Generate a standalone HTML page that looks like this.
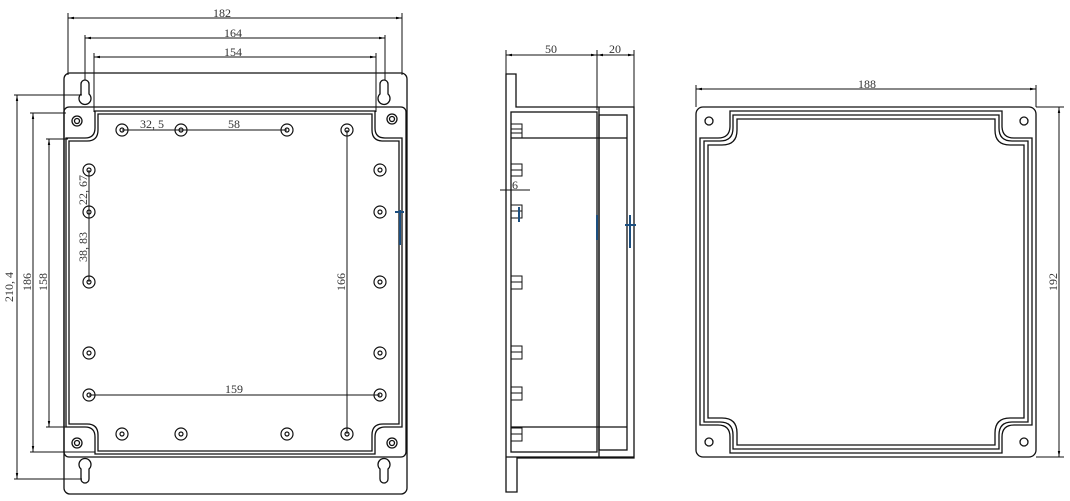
<!DOCTYPE html>
<html><head><meta charset="utf-8"><style>
html,body{margin:0;padding:0;background:#fff;}
svg{display:block;}
text{font-family:"Liberation Serif",serif;font-size:12px;fill:#333;}
</style></head><body>
<svg width="1070" height="501" viewBox="0 0 1070 501" xmlns="http://www.w3.org/2000/svg">
<defs>
<marker id="a" viewBox="0 0 10 10" refX="10" refY="5" markerWidth="6" markerHeight="6" orient="auto-start-reverse"><path d="M0,3 L10,5 L0,7z" fill="#000"/></marker>
</defs>
<g fill="none" stroke="#111" stroke-width="1.3">
<!-- LEFT VIEW -->
<rect x="64" y="73" width="343" height="421" rx="6"/>
<rect x="64" y="107" width="342" height="350" rx="5"/>
<path d="M95,111 H375 V128 Q375,138 385,138 H402 V427 H385 Q375,427 375,437 V454 H95 V437 Q95,427 85,427 H66 V138 H85 Q95,138 95,128 Z"/>
<path d="M98,114 H372 V130 Q372,141 383,141 H399 V424 H383 Q372,424 372,435 V451 H98 V435 Q98,424 87,424 H69 V141 H87 Q98,141 98,130 Z"/>
<!-- keyholes -->
<path d="M81,94 V84 A4,4 0 0 1 89,84 V94 A6,6 0 1 1 81,94 Z"/>
<path d="M380,94 V84 A4,4 0 0 1 388,84 V94 A6,6 0 1 1 380,94 Z"/>
<path d="M81,469 V479 A4,4 0 0 0 89,479 V469 A6,6 0 1 0 81,469 Z"/>
<path d="M380,469 V479 A4,4 0 0 0 388,479 V469 A6,6 0 1 0 380,469 Z"/>
<!-- corner screws -->
<circle cx="77" cy="121" r="5"/><circle cx="77" cy="121" r="2.5"/>
<circle cx="392" cy="119" r="5"/><circle cx="392" cy="119" r="2.5"/>
<circle cx="77" cy="443" r="5"/><circle cx="77" cy="443" r="2.5"/>
<circle cx="392" cy="443" r="5"/><circle cx="392" cy="443" r="2.5"/>
<!-- holes -->
<g stroke-width="1.2">
<circle cx="122" cy="130" r="6"/><circle cx="122" cy="130" r="2"/>
<circle cx="181" cy="130" r="6"/><circle cx="181" cy="130" r="2"/>
<circle cx="287" cy="130" r="6"/><circle cx="287" cy="130" r="2"/>
<circle cx="347" cy="130" r="6"/><circle cx="347" cy="130" r="2"/>
<circle cx="122" cy="434" r="6"/><circle cx="122" cy="434" r="2"/>
<circle cx="181" cy="434" r="6"/><circle cx="181" cy="434" r="2"/>
<circle cx="287" cy="434" r="6"/><circle cx="287" cy="434" r="2"/>
<circle cx="347" cy="434" r="6"/><circle cx="347" cy="434" r="2"/>
<circle cx="89" cy="170" r="6"/><circle cx="89" cy="170" r="2"/>
<circle cx="89" cy="212" r="6"/><circle cx="89" cy="212" r="2"/>
<circle cx="89" cy="282" r="6"/><circle cx="89" cy="282" r="2"/>
<circle cx="89" cy="353" r="6"/><circle cx="89" cy="353" r="2"/>
<circle cx="89" cy="395" r="6"/><circle cx="89" cy="395" r="2"/>
<circle cx="380" cy="170" r="6"/><circle cx="380" cy="170" r="2"/>
<circle cx="380" cy="212" r="6"/><circle cx="380" cy="212" r="2"/>
<circle cx="380" cy="282" r="6"/><circle cx="380" cy="282" r="2"/>
<circle cx="380" cy="353" r="6"/><circle cx="380" cy="353" r="2"/>
<circle cx="380" cy="395" r="6"/><circle cx="380" cy="395" r="2"/>
</g>
</g>
<g stroke="#111" stroke-width="1" fill="none">
<line x1="68" y1="13" x2="68" y2="75"/><line x1="402" y1="13" x2="402" y2="75"/>
<line x1="68" y1="18" x2="402" y2="18" marker-start="url(#a)" marker-end="url(#a)"/>
<line x1="85" y1="35" x2="85" y2="80"/><line x1="385" y1="35" x2="385" y2="80"/>
<line x1="85" y1="38" x2="385" y2="38" marker-start="url(#a)" marker-end="url(#a)"/>
<line x1="94" y1="53" x2="94" y2="112"/><line x1="376" y1="53" x2="376" y2="112"/>
<line x1="94" y1="57" x2="376" y2="57" marker-start="url(#a)" marker-end="url(#a)"/>
<line x1="14" y1="95" x2="82" y2="95"/><line x1="14" y1="479" x2="82" y2="479"/>
<line x1="17" y1="95" x2="17" y2="479" marker-start="url(#a)" marker-end="url(#a)"/>
<line x1="30" y1="113" x2="66" y2="113"/><line x1="30" y1="452" x2="95" y2="452"/>
<line x1="33" y1="113" x2="33" y2="452" marker-start="url(#a)" marker-end="url(#a)"/>
<line x1="46" y1="139" x2="68" y2="139"/><line x1="46" y1="427" x2="68" y2="427"/>
<line x1="49" y1="139" x2="49" y2="427" marker-start="url(#a)" marker-end="url(#a)"/>
<line x1="122" y1="130" x2="287" y2="130"/>
<line x1="347" y1="130" x2="347" y2="434"/>
<line x1="89" y1="395" x2="380" y2="395"/>
<line x1="89" y1="170" x2="89" y2="282"/>
</g>
<text x="222" y="17" text-anchor="middle">182</text>
<text x="233" y="37" text-anchor="middle">164</text>
<text x="233" y="56" text-anchor="middle">154</text>
<text x="152" y="128" text-anchor="middle">32, 5</text>
<text x="234" y="128" text-anchor="middle">58</text>
<text x="234" y="393" text-anchor="middle">159</text>
<text transform="translate(13,287) rotate(-90)" text-anchor="middle">210, 4</text>
<text transform="translate(31,282) rotate(-90)" text-anchor="middle">186</text>
<text transform="translate(47,282) rotate(-90)" text-anchor="middle">158</text>
<text transform="translate(345,282) rotate(-90)" text-anchor="middle">166</text>
<text transform="translate(87,190) rotate(-90)" text-anchor="middle">22, 67</text>
<text transform="translate(87,247) rotate(-90)" text-anchor="middle">38, 83</text>
<path d="M400,210 V245 M395,212 H404" stroke="#1c4f80" stroke-width="2" fill="none"/>

<!-- MIDDLE VIEW -->
<g fill="none" stroke="#111" stroke-width="1.3">
<path d="M506,74 H516 V107 H634 V458 H517 V492 H506 Z"/>
<rect x="511" y="112" width="86" height="340"/>
<line x1="599" y1="107" x2="599" y2="458"/>
<rect x="599" y="115" width="28" height="335"/>
<line x1="511" y1="138" x2="627" y2="138"/>
<line x1="511" y1="427" x2="627" y2="427"/>
<line x1="506" y1="457" x2="634" y2="457"/>
<g stroke-width="1">
<rect x="511" y="124" width="11" height="14"/><line x1="511" y1="129" x2="522" y2="129"/><line x1="511" y1="133" x2="522" y2="133"/>
<rect x="511" y="164" width="11" height="12"/><line x1="511" y1="170" x2="522" y2="170"/>
<rect x="511" y="205" width="11" height="13"/><line x1="511" y1="211" x2="522" y2="211"/>
<rect x="511" y="276" width="11" height="13"/><line x1="511" y1="282" x2="522" y2="282"/>
<rect x="511" y="346" width="11" height="13"/><line x1="511" y1="352" x2="522" y2="352"/>
<rect x="511" y="387" width="11" height="13"/><line x1="511" y1="393" x2="522" y2="393"/>
<rect x="511" y="428" width="11" height="13"/><line x1="511" y1="434" x2="522" y2="434"/>
</g>
</g>
<g stroke="#111" stroke-width="1" fill="none">
<line x1="506" y1="50" x2="506" y2="74"/><line x1="597" y1="50" x2="597" y2="110"/><line x1="634" y1="50" x2="634" y2="107"/>
<line x1="506" y1="55" x2="597" y2="55" marker-start="url(#a)" marker-end="url(#a)"/>
<line x1="597" y1="55" x2="634" y2="55" marker-start="url(#a)" marker-end="url(#a)"/>
<line x1="500" y1="190" x2="530" y2="190"/>
</g>
<path d="M519,207 V222 M597,215 V240 M630,215 V248 M625,225 H636" stroke="#1c4f80" stroke-width="2" fill="none"/>
<text x="551" y="53" text-anchor="middle">50</text>
<text x="615" y="53" text-anchor="middle">20</text>
<text x="515" y="189" text-anchor="middle">6</text>

<!-- RIGHT VIEW -->
<g fill="none" stroke="#111" stroke-width="1.3">
<rect x="696" y="107" width="340" height="350" rx="7"/>
<path d="M730,111 H1002 V126 Q1002,138 1014,138 H1032 V425 H1014 Q1002,425 1002,437 V453 H730 V437 Q730,425 718,425 H700 V138 H718 Q730,138 730,126 Z"/>
<path d="M733,115 H999 V128 Q999,141 1012,141 H1028 V422 H1012 Q999,422 999,435 V449 H733 V435 Q733,422 720,422 H704 V141 H720 Q733,141 733,128 Z"/>
<path d="M737,119 H995 V130 Q995,145 1010,145 H1024 V418 H1010 Q995,418 995,433 V445 H737 V433 Q737,418 722,418 H708 V145 H722 Q737,145 737,130 Z"/>
<circle cx="709" cy="121" r="4"/><circle cx="1024" cy="121" r="4"/>
<circle cx="709" cy="442" r="4"/><circle cx="1024" cy="442" r="4"/>
</g>
<g stroke="#111" stroke-width="1" fill="none">
<line x1="696" y1="85" x2="696" y2="107"/><line x1="1036" y1="85" x2="1036" y2="107"/>
<line x1="696" y1="89" x2="1036" y2="89" marker-start="url(#a)" marker-end="url(#a)"/>
<line x1="1036" y1="107" x2="1064" y2="107"/><line x1="1036" y1="457" x2="1064" y2="457"/>
<line x1="1059" y1="107" x2="1059" y2="457" marker-start="url(#a)" marker-end="url(#a)"/>
</g>
<text x="867" y="88" text-anchor="middle">188</text>
<text transform="translate(1057,282) rotate(-90)" text-anchor="middle">192</text>
</svg>
</body></html>
